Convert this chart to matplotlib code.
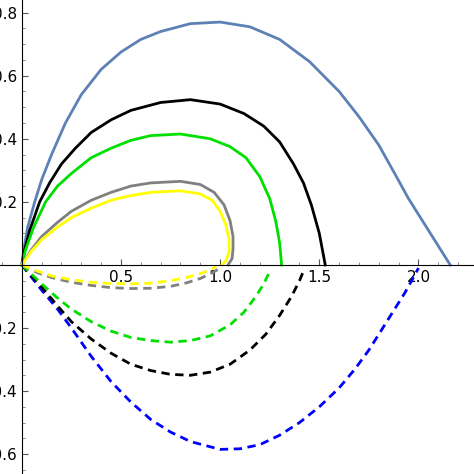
import matplotlib
matplotlib.use("Agg")
import matplotlib.pyplot as plt
from matplotlib.ticker import MultipleLocator

blue_x = [0,0.01,0.03,0.065,0.1,0.15,0.22,0.3,0.4,0.5,0.6,0.7,0.85,1.0,1.15,1.3,1.45,1.6,1.7,1.8,1.88,1.95,2.02,2.08,2.13,2.16]
blue_y = [0,0.05,0.12,0.2,0.27,0.35,0.45,0.54,0.62,0.675,0.715,0.74,0.765,0.77,0.755,0.715,0.645,0.55,0.47,0.38,0.29,0.21,0.14,0.08,0.03,0.0]
black_x = [0,0.015,0.04,0.09,0.14,0.2,0.27,0.35,0.45,0.55,0.7,0.85,1.0,1.12,1.22,1.3,1.37,1.42,1.46,1.5,1.53]
black_y = [0,0.05,0.11,0.2,0.26,0.32,0.37,0.42,0.46,0.49,0.515,0.524,0.51,0.48,0.44,0.39,0.32,0.26,0.19,0.1,0.0]
green_x = [0,0.02,0.06,0.12,0.18,0.25,0.35,0.45,0.55,0.65,0.8,0.95,1.05,1.13,1.2,1.25,1.28,1.3,1.31]
green_y = [0,0.05,0.12,0.2,0.25,0.29,0.34,0.37,0.395,0.41,0.415,0.4,0.375,0.34,0.28,0.21,0.14,0.07,0.0]
grey_x = [0,0.05,0.1,0.18,0.25,0.35,0.45,0.55,0.65,0.8,0.9,0.97,1.02,1.05,1.065,1.065,1.06,1.04]
grey_y = [0,0.05,0.09,0.135,0.17,0.205,0.23,0.25,0.26,0.265,0.255,0.23,0.19,0.14,0.09,0.05,0.02,0.0]
yellow_x = [0,0.05,0.1,0.18,0.25,0.35,0.45,0.55,0.65,0.8,0.9,0.96,1.0,1.03,1.045,1.045,1.03,1.01]
yellow_y = [0,0.045,0.08,0.12,0.15,0.18,0.205,0.22,0.23,0.235,0.225,0.205,0.17,0.125,0.08,0.04,0.015,0.0]

dblue_x = [0,0.05,0.1,0.18,0.25,0.35,0.45,0.55,0.65,0.75,0.85,1.0,1.1,1.2,1.3,1.4,1.5,1.6,1.68,1.75,1.82,1.88,1.93,1.97,2.0]
dblue_y = [0,-0.04,-0.08,-0.14,-0.2,-0.29,-0.37,-0.435,-0.49,-0.53,-0.56,-0.585,-0.583,-0.57,-0.54,-0.5,-0.45,-0.39,-0.33,-0.27,-0.2,-0.14,-0.09,-0.045,-0.01]
dblack_x = [0,0.05,0.1,0.18,0.25,0.35,0.45,0.55,0.65,0.75,0.85,0.95,1.05,1.15,1.23,1.3,1.36,1.4,1.42]
dblack_y = [0,-0.035,-0.07,-0.13,-0.18,-0.235,-0.28,-0.315,-0.335,-0.347,-0.35,-0.34,-0.315,-0.27,-0.22,-0.16,-0.1,-0.05,-0.02]
dgreen_x = [0,0.05,0.1,0.18,0.25,0.35,0.45,0.55,0.65,0.75,0.85,0.95,1.05,1.12,1.18,1.22,1.25]
dgreen_y = [0,-0.03,-0.06,-0.105,-0.14,-0.18,-0.21,-0.23,-0.24,-0.245,-0.24,-0.225,-0.19,-0.15,-0.1,-0.06,-0.02]
dgrey_x = [0,0.08,0.15,0.25,0.35,0.45,0.55,0.65,0.75,0.83,0.9,0.96,1.0]
dgrey_y = [0,-0.025,-0.04,-0.055,-0.065,-0.072,-0.075,-0.074,-0.068,-0.057,-0.043,-0.025,-0.01]
dyellow_x = [0,0.08,0.15,0.25,0.35,0.45,0.55,0.65,0.75,0.83,0.9,0.95,0.98]
dyellow_y = [0,-0.02,-0.035,-0.047,-0.055,-0.059,-0.06,-0.058,-0.05,-0.04,-0.028,-0.015,-0.005]

xticks = [0.5, 1.0, 1.5, 2.0]
yticks = [-0.6, -0.4, -0.2, 0.2, 0.4, 0.6, 0.8]

fig = plt.figure(figsize=(4.74, 4.74), dpi=100)
ax = fig.add_axes([0, 0, 1, 1])
lw = 2
kw = dict(lw=lw, solid_joinstyle="round")
dash = (0, (3, 2))
ax.plot(blue_x, blue_y, color="#5E81B5", **kw)
ax.plot(black_x, black_y, color="black", **kw)
ax.plot(green_x, green_y, color="#00E000", **kw)
ax.plot(grey_x, grey_y, color="#808080", **kw)
ax.plot(yellow_x, yellow_y, color="#FFFF00", **kw)
ax.plot(dblue_x, dblue_y, color="#0000FF", ls=dash, **kw)
ax.plot(dblack_x, dblack_y, color="black", ls=dash, **kw)
ax.plot(dgreen_x, dgreen_y, color="#00E000", ls=dash, **kw)
ax.plot(dgrey_x, dgrey_y, color="#808080", ls=dash, **kw)
ax.plot(dyellow_x, dyellow_y, color="#FFFF00", ls=dash, **kw)

ax.set_xlim(-0.11, 2.28)
ax.set_ylim(-0.663, 0.84)
for s in ["top", "right"]:
    ax.spines[s].set_visible(False)
ax.spines["left"].set_position(("data", 0))
ax.spines["bottom"].set_position(("data", 0))
ax.set_xticks(xticks)
ax.set_xticklabels([f"{v:.1f}" for v in xticks])
ax.set_yticks(yticks)
ax.set_yticklabels([f"{v:.1f}" for v in yticks])
ax.xaxis.set_minor_locator(MultipleLocator(0.1))
ax.yaxis.set_minor_locator(MultipleLocator(0.05))
ax.tick_params(labelsize=11, length=4, direction="in", color="#555555")
ax.tick_params(which="minor", length=2, direction="in", color="#777777")
fig.savefig("out.png", dpi=100)
